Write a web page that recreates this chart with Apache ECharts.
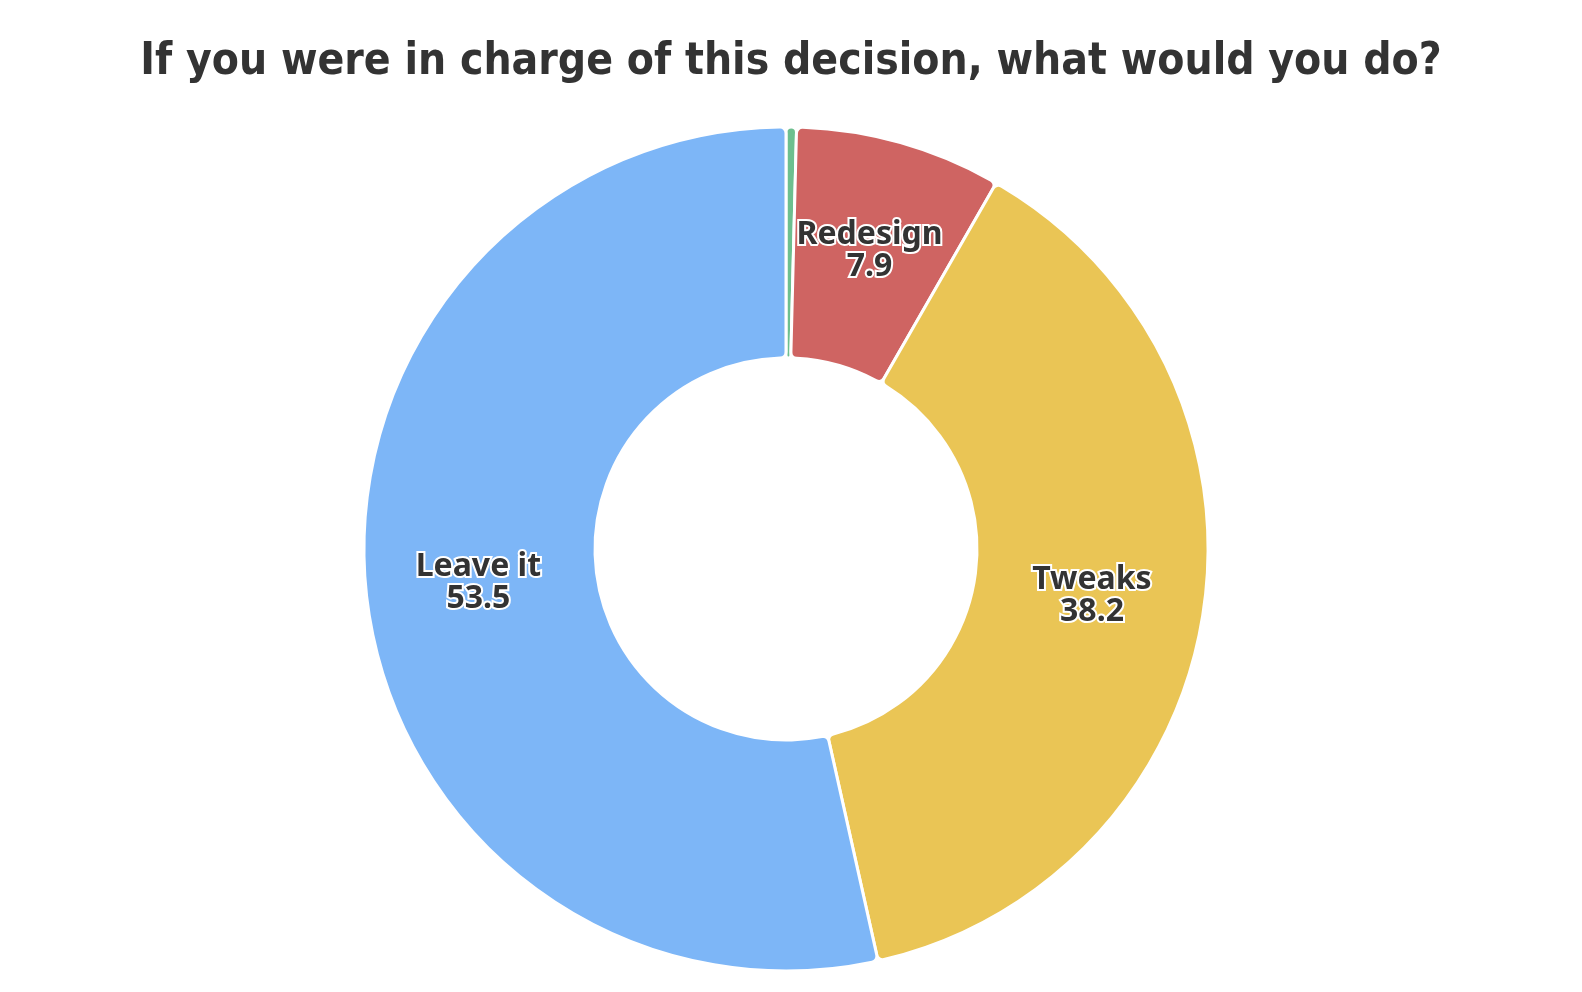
<!DOCTYPE html>
<html><head><meta charset="utf-8">
<script src="https://cdn.jsdelivr.net/npm/echarts@6/dist/echarts.min.js"></script>
<style>html,body{margin:0;padding:0;background:#fff}#c{width:1582px;height:992px}</style>
</head><body><div id="c"></div>
<script>
const categories = ["", "Redesign", "Tweaks", "Leave it"];
const values = [0.4, 7.9, 38.2, 53.5];
const colors = ["#6dbf8f", "#cf6462", "#eac555", "#7db6f7"];
const chart = echarts.init(document.getElementById('c'));
chart.setOption({
  title: {text: "If you were in charge of this decision, what would you do?", left: 'center', top: 36,
    textStyle: {fontFamily: "DejaVu Sans Condensed", fontWeight: 'bold', fontSize: 44, color: '#333'}},
  series: [{
    type: 'pie', center: [786, 549], radius: [191, 422], startAngle: 90, clockwise: true,
    animation: false,
    data: categories.map((n, i) => ({name: n, value: values[i], itemStyle: {color: colors[i]},
      label: {show: i > 0}})),
    itemStyle: {borderColor: '#fff', borderWidth: 3, borderRadius: 6},
    label: {position: 'inside', formatter: p => p.name + '\n' + p.value,
      fontFamily: 'Noto Sans', fontWeight: 'bold', fontSize: 32, lineHeight: 32, color: '#333',
      textBorderColor: '#fff', textBorderWidth: 4},
    labelLine: {show: false}
  }]
});
</script></body></html>
